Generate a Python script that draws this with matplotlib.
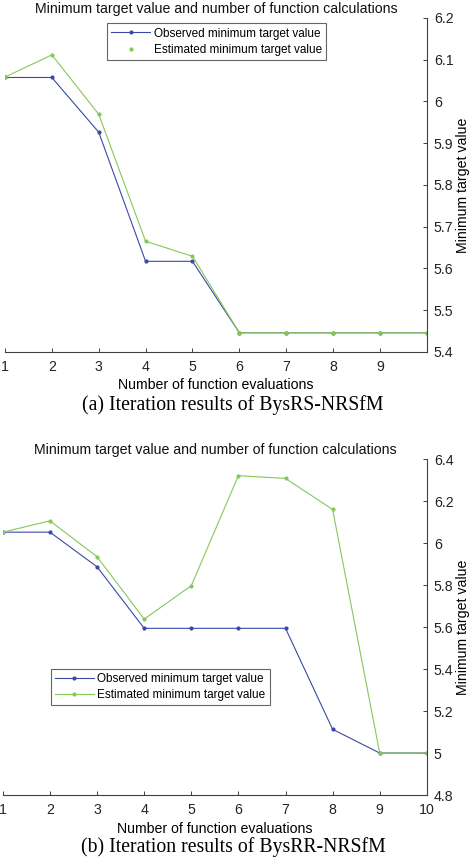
import numpy as np
import matplotlib.pyplot as plt
from matplotlib.lines import Line2D

plt.rcParams['font.family'] = ['Liberation Sans', 'DejaVu Sans']

# panel (a): BysRS-NRSfM
evals_a = [1, 2, 3, 4, 5, 6, 7, 8, 9, 10]
obs_a = [6.057, 6.057, 5.926, 5.617, 5.617, 5.446, 5.446, 5.446, 5.446, 5.446]
est_a = [6.058, 6.111, 5.969, 5.665, 5.629, 5.446, 5.446, 5.446, 5.446, 5.446]
yticks_a = [5.4, 5.5, 5.6, 5.7, 5.8, 5.9, 6.0, 6.1, 6.2]
xticks_a = [1, 2, 3, 4, 5, 6, 7, 8, 9]

# panel (b): BysRR-NRSfM
evals_b = [1, 2, 3, 4, 5, 6, 7, 8, 9, 10]
obs_b = [6.052, 6.052, 5.887, 5.594, 5.594, 5.594, 5.594, 5.113, 5.0, 5.0]
est_b = [6.052, 6.106, 5.935, 5.638, 5.797, 6.321, 6.308, 6.160, 5.0, 5.0]
yticks_b = [4.8, 5.0, 5.2, 5.4, 5.6, 5.8, 6.0, 6.2, 6.4]
xticks_b = [1, 2, 3, 4, 5, 6, 7, 8, 9, 10]

blue = '#3a4aa4'
green = '#86c75a'
spine = '#404040'
title = 'Minimum target value and number of function calculations'
fs = 10.2

fig = plt.figure(figsize=(4.74, 8.57), dpi=100)
ax1 = fig.add_axes([0.0105, 0.5893, 0.890, 0.390])
ax2 = fig.add_axes([0.006, 0.0723, 0.8945, 0.392])


def style(ax, xticks, yticks, ylim, ylabels):
    ax.set_xlim(1, 10)
    ax.set_ylim(*ylim)
    ax.set_xticks(xticks)
    ax.set_yticks(yticks)
    ax.set_yticklabels(ylabels)
    ax.yaxis.tick_right()
    ax.yaxis.set_label_position('right')
    for s in ['top', 'left']:
        ax.spines[s].set_visible(False)
    for s in ['bottom', 'right']:
        ax.spines[s].set_color(spine)
        ax.spines[s].set_linewidth(0.8)
    ax.tick_params(direction='in', length=3, width=0.7, color=spine,
                   labelsize=fs, labelcolor='#222222')
    ax.tick_params(axis='x', pad=6)
    ax.tick_params(axis='y', pad=5)
    ax.set_title(title, fontsize=fs, pad=3.5, color='#111111')
    ax.set_xlabel('Number of function evaluations', fontsize=fs, labelpad=3)
    ax.set_ylabel('Minimum target value', fontsize=fs, labelpad=2)


ax1.plot(evals_a, obs_a, color=blue, lw=0.8, marker='o', ms=2,
         label='Observed minimum target value')
ax1.plot(evals_a, est_a, color=green, lw=0.8, marker='o', ms=2,
         label='Estimated minimum target value')
style(ax1, xticks_a, yticks_a, (5.4, 6.2),
      ['5.4', '5.5', '5.6', '5.7', '5.8', '5.9', '6', '6.1', '6.2'])
h, l = ax1.get_legend_handles_labels()
h2 = Line2D([], [], color=green, lw=0, marker='o', ms=2)
leg_kw = dict(fontsize=8.5, frameon=True, fancybox=False, edgecolor=spine,
              handlelength=3.3, handletextpad=0.3, borderpad=0.35,
              labelspacing=0.35, borderaxespad=0)
leg1 = ax1.legend([h[0], h2], l, loc='upper left',
                  bbox_to_anchor=(0.242, 0.983), **leg_kw)
leg1.get_frame().set_linewidth(0.8)

ax2.plot(evals_b, obs_b, color=blue, lw=0.8, marker='o', ms=2,
         label='Observed minimum target value')
ax2.plot(evals_b, est_b, color=green, lw=0.8, marker='o', ms=2,
         label='Estimated minimum target value')
style(ax2, xticks_b, yticks_b, (4.8, 6.4),
      ['4.8', '5', '5.2', '5.4', '5.6', '5.8', '6', '6.2', '6.4'])
leg2 = ax2.legend(loc='upper left', bbox_to_anchor=(0.113, 0.375), **leg_kw)
leg2.get_frame().set_linewidth(0.8)

fig.text(0.492, 1 - 405 / 857, '(a) Iteration results of BysRS-NRSfM',
         ha='center', va='center', fontsize=14.2, family='Liberation Serif')
fig.text(0.492, 1 - 847 / 857, '(b) Iteration results of BysRR-NRSfM',
         ha='center', va='center', fontsize=14.2, family='Liberation Serif')

fig.savefig('out.png', dpi=100)
